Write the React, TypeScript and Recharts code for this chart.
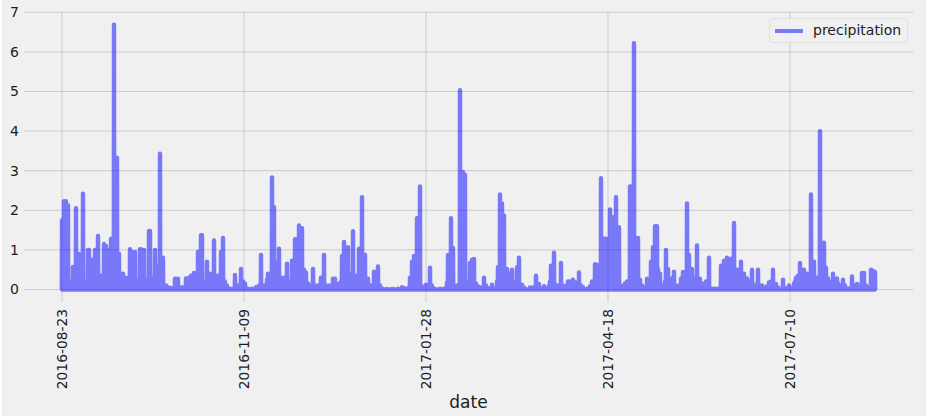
import { LineChart, Line, XAxis, YAxis, CartesianGrid, Legend } from 'recharts';

// rows and readings, one pair of arrays per stretch between date ticks
const rowsA = [0, 2, 4, 6, 9, 11, 14, 17, 19, 21, 23, 26, 27, 30, 33, 36, 39, 42, 44, 46, 49, 52, 55, 57, 59, 61, 64, 66, 68, 70, 73, 75, 78, 79, 82, 84, 87, 88, 90, 93, 95, 98, 101, 104, 107, 110, 113, 116, 119, 121, 124, 127];
const valuesA = [1.75, 2.23, 2.23, 2.13, 0.15, 0.57, 2.05, 0.9, 0.15, 2.42, 0.2, 1, 1, 0.75, 1, 1.35, 0.35, 1.15, 1.1, 1, 1.28, 6.69, 3.33, 0.9, 0.3, 0.4, 0.3, 0.2, 1.02, 0.95, 0.95, 0.25, 1.02, 1.02, 1, 0.2, 1.48, 1.48, 0.3, 1, 0.6, 3.43, 0.8, 0.1, 0.05, 0.03, 0.27, 0.27, 0.05, 0.05, 0.28, 0.3];

const rowsB = [129, 132, 134, 136, 139, 140, 142, 145, 148, 150, 152, 154, 156, 159, 161, 163, 165, 168, 171, 173, 176, 179, 181, 183, 186, 190, 194, 197, 199, 201, 203, 206, 210, 212, 214, 217, 219, 222, 225, 227, 230, 233, 234, 237, 240, 242, 244, 246, 249, 251, 253, 256, 259, 262, 264];
const valuesB = [0.35, 0.42, 0.15, 0.95, 1.37, 1.37, 0.2, 0.7, 0.4, 0.3, 1.24, 0.3, 0.35, 0.95, 1.3, 0.2, 0.1, 0.02, 0.02, 0.37, 0.1, 0.52, 0.2, 0.15, 0.02, 0.02, 0.06, 0.1, 0.87, 0.1, 0.1, 0.4, 2.83, 2.08, 0.7, 1.03, 0.3, 0.3, 0.65, 0.2, 0.73, 1.27, 1.27, 1.62, 1.55, 0.5, 0.43, 0.15, 0.1, 0.52, 0.1, 0.1, 0.3, 0.87, 0.1];

const rowsC = [267, 271, 273, 275, 277, 280, 282, 284, 286, 289, 291, 294, 297, 300, 303, 306, 308, 310, 312, 314, 316, 318, 320, 325, 330, 332, 336, 340, 343, 346, 348, 350, 352, 355, 358, 360, 362, 364, 368, 370, 372, 378, 382, 385, 386, 389, 391, 393, 395, 398, 401, 403];
const valuesC = [0.1, 0.27, 0.27, 0.15, 0.05, 0.85, 1.2, 0.4, 1.07, 0.4, 1.47, 0.35, 1.03, 2.33, 0.88, 0.27, 0.1, 0.1, 0.45, 0.3, 0.58, 0.1, 0.03, 0.01, 0.01, 0.01, 0.02, 0.06, 0.03, 0.03, 0.3, 0.7, 0.85, 1.8, 2.6, 0.08, 0.05, 0.12, 0.55, 0.1, 0.03, 0.02, 0.02, 0.17, 0.87, 1.8, 1.05, 0.05, 0.1, 5.03, 2.97, 2.9];

const rowsD = [405, 408, 410, 412, 414, 416, 419, 422, 424, 427, 430, 433, 436, 438, 440, 442, 445, 447, 450, 452, 455, 457, 460, 462, 468, 471, 474, 477, 479, 482, 485, 487, 489, 492, 494, 496, 499, 501, 503, 506, 508, 511, 514, 517, 519, 521, 525, 528, 530, 533, 535];
const valuesD = [0.1, 0.67, 0.75, 0.77, 0.15, 0.08, 0.05, 0.3, 0.1, 0.03, 0.12, 0.03, 0.56, 2.4, 2.17, 1.87, 0.52, 0.4, 0.5, 0.1, 0.56, 0.8, 0.12, 0.05, 0.05, 0.05, 0.35, 0.14, 0.03, 0.08, 0.03, 0.1, 0.6, 0.93, 0.1, 0.1, 0.67, 0.1, 0.08, 0.2, 0.2, 0.25, 0.18, 0.43, 0.1, 0.06, 0.02, 0.08, 0.2, 0.64, 0.62];

const rowsE = [537, 539, 542, 544, 546, 548, 551, 552, 554, 557, 559, 561, 563, 565, 568, 569, 572, 574, 576, 578, 580, 582, 585, 587, 589, 591, 593, 595, 596, 598, 600, 602, 604, 606, 609, 612, 615, 617, 619, 621, 623, 625, 627, 630, 633, 635, 638, 640, 642, 644, 647, 650, 653, 656, 659, 662, 665, 667, 669, 672, 675, 679];
const valuesE = [0.3, 2.81, 1.28, 1.28, 0.3, 2.02, 0.3, 1.83, 2.33, 1.57, 0.1, 0.05, 0.15, 0.2, 2.6, 2.6, 6.22, 1.3, 1.3, 0.25, 0.1, 0.05, 0.27, 0.1, 0.7, 1.07, 1.6, 1.6, 0.52, 0.4, 0.1, 0.1, 1, 0.52, 0.28, 0.45, 0.03, 0.1, 0.28, 0.44, 0.4, 2.17, 0.87, 0.52, 0.28, 1.11, 0.27, 0.15, 0.1, 0.2, 0.8, 0.02, 0.02, 0.02, 0.6, 0.73, 0.8, 0.5, 0.78, 1.68, 0.5, 0.7];

const rowsF = [682, 685, 687, 690, 693, 696, 698, 700, 703, 705, 707, 709, 711, 714, 716, 721, 724, 727, 730, 732, 734, 736, 738, 740, 742, 745, 747, 749, 752, 755, 758, 760, 762, 764, 766, 768, 771, 773, 775, 777, 779, 781, 783, 785, 788, 790, 792, 795, 797, 800, 802, 804, 806, 809, 811, 813];
const valuesF = [0.4, 0.28, 0.2, 0.5, 0.1, 0.5, 0.1, 0.1, 0.05, 0.08, 0.18, 0.2, 0.5, 0.14, 0.05, 0.25, 0.03, 0.1, 0.03, 0.15, 0.3, 0.35, 0.67, 0.4, 0.5, 0.4, 0.3, 2.4, 0.7, 0.3, 4, 0.5, 1.18, 0.55, 0.28, 0.1, 0.4, 0.2, 0.28, 0.05, 0.1, 0.25, 0.1, 0.03, 0.03, 0.33, 0.1, 0.14, 0.1, 0.42, 0.42, 0.1, 0.05, 0.5, 0.47, 0.44];

// small readings that fill the busy stretches between the taller spikes
const rowsLow = [8, 13, 16, 25, 29, 32, 35, 38, 41, 48, 51, 54, 63, 72, 77, 81, 86, 92, 97, 100, 131, 138, 144, 147, 151, 158, 164, 205, 209, 216, 221, 224, 229, 232, 236, 239, 248, 255, 270, 279, 281, 283, 288, 290, 293, 296, 299, 302, 305, 351, 354, 357, 387, 388, 390, 407, 409, 411, 435, 437, 439, 444, 446, 449, 454, 488, 491, 498, 505, 510, 513, 516, 534, 536, 541, 543, 547, 550, 553, 556, 567, 571, 575, 586, 590, 592, 594, 597, 603, 605, 608, 611, 614, 620, 624, 626, 629, 632, 634, 637, 646, 661, 664, 666, 668, 671, 674, 677, 680, 684, 689, 692, 695, 701, 713, 733, 735, 737, 739, 741, 744, 746, 748, 751, 754, 757, 759, 761, 763, 765, 770, 772, 776, 794, 796, 799];
const valuesLow = [0.2, 0.15, 0.25, 0.2, 0.3, 0.25, 0.3, 0.2, 0.3, 0.25, 0.3, 0.35, 0.2, 0.25, 0.2, 0.2, 0.25, 0.2, 0.2, 0.2, 0.2, 0.25, 0.2, 0.25, 0.2, 0.2, 0.1, 0.25, 0.2, 0.2, 0.2, 0.25, 0.2, 0.25, 0.2, 0.25, 0.05, 0.05, 0.1, 0.2, 0.3, 0.3, 0.3, 0.3, 0.3, 0.3, 0.3, 0.3, 0.2, 0.3, 0.3, 0.3, 0.2, 0.3, 0.3, 0.2, 0.2, 0.2, 0.2, 0.3, 0.3, 0.3, 0.3, 0.3, 0.2, 0.2, 0.2, 0.1, 0.1, 0.1, 0.1, 0.15, 0.2, 0.3, 0.3, 0.3, 0.3, 0.3, 0.3, 0.3, 0.2, 0.3, 0.3, 0.1, 0.3, 0.3, 0.3, 0.3, 0.2, 0.3, 0.2, 0.2, 0.1, 0.2, 0.3, 0.3, 0.3, 0.2, 0.3, 0.2, 0.1, 0.3, 0.3, 0.3, 0.3, 0.3, 0.3, 0.3, 0.3, 0.2, 0.2, 0.1, 0.15, 0.05, 0.1, 0.2, 0.3, 0.3, 0.3, 0.3, 0.3, 0.3, 0.3, 0.3, 0.2, 0.3, 0.3, 0.3, 0.3, 0.2, 0.2, 0.2, 0.15, 0.1, 0.1, 0.1];

const dateTicks = [0, 182, 364, 546, 728];
const dateLabels = ['2016-08-23', '2016-11-09', '2017-01-28', '2017-04-18', '2017-07-10'];
const yTicks = [0, 1, 2, 3, 4, 5, 6, 7];

const rows = [...rowsA, ...rowsB, ...rowsC, ...rowsD, ...rowsE, ...rowsF, ...rowsLow];
const values = [...valuesA, ...valuesB, ...valuesC, ...valuesD, ...valuesE, ...valuesF, ...valuesLow];

// the readings drop back to zero between stations, which gives the spiky look
const data = rows
  .map((row, i) => ({ row, precipitation: values[i] }))
  .sort((a, b) => a.row - b.row)
  .flatMap((d) => [
    { row: d.row - 0.2, precipitation: 0 },
    d,
    { row: d.row + 0.2, precipitation: 0 },
  ]);

const font = '"DejaVu Sans", sans-serif';
const textColor = '#1c1c1c';

const DateTick = ({ x, y, payload }: any) => (
  <text
    x={x}
    y={y}
    transform={`rotate(-90 ${x} ${y})`}
    textAnchor="end"
    dominantBaseline="central"
    fontFamily={font}
    fontSize={13.8}
    fill={textColor}
  >
    {dateLabels[dateTicks.indexOf(payload.value)]}
  </text>
);

const LegendBox = () => (
  <div
    style={{
      boxSizing: 'border-box',
      width: 139,
      height: 25,
      border: '1px solid #e0e0e0',
      borderRadius: 4,
      background: 'rgba(240,240,240,0.8)',
      position: 'relative',
      fontFamily: font,
      fontSize: 14,
      color: textColor,
    }}
  >
    <div style={{ position: 'absolute', left: 5, top: 9.5, width: 28, height: 4, background: '#7878f8' }} />
    <div style={{ position: 'absolute', left: 43, top: 3, lineHeight: '17px' }}>precipitation</div>
  </div>
);

export default function App() {
  return (
    <div style={{ position: 'absolute', left: 2, top: 0, width: 924, height: 416, background: '#f0f0f0' }}>
      <LineChart width={924} height={416} data={data} margin={{ top: 12, right: 13, left: 0, bottom: 0 }}>
        <CartesianGrid stroke="#cbcbcb" strokeWidth={1} syncWithTicks />
        <XAxis
          dataKey="row"
          type="number"
          domain={[-38, 851]}
          ticks={dateTicks}
          interval={0}
          height={114}
          axisLine={false}
          tickLine={false}
          tickSize={0}
          tickMargin={7}
          tick={<DateTick />}
          label={{ value: 'date', position: 'insideBottom', offset: 8, fontFamily: font, fontSize: 17, fill: textColor }}
        />
        <YAxis
          type="number"
          domain={[-0.316, 7.008]}
          ticks={yTicks}
          interval={0}
          width={22}
          allowDataOverflow
          axisLine={false}
          tickLine={false}
          tickSize={0}
          tickMargin={5}
          tick={{ fontFamily: font, fontSize: 14, fill: textColor }}
        />
        <Legend
          layout="horizontal"
          verticalAlign="middle"
          content={<LegendBox />}
          wrapperStyle={{ left: 767, top: 18, width: 139 }}
        />
        <Line
          type="linear"
          dataKey="precipitation"
          stroke="#0000ff"
          strokeOpacity={0.5}
          strokeWidth={4.4}
          strokeLinejoin="round"
          dot={false}
          isAnimationActive={false}
        />
      </LineChart>
    </div>
  );
}
